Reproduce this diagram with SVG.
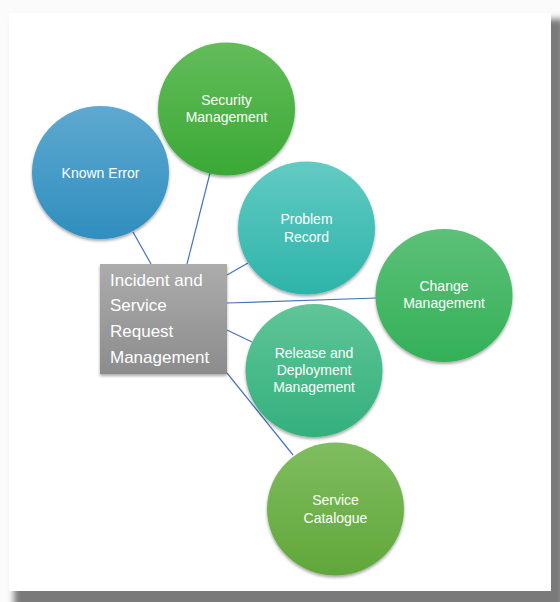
<svg xmlns="http://www.w3.org/2000/svg" width="560" height="602" viewBox="0 0 560 602">
<style>
.lbl{font-family:"Liberation Sans",Arial,sans-serif;font-size:14px;fill:#ffffff;text-anchor:middle}
.box{font-family:"Liberation Sans",Arial,sans-serif;font-size:17px;fill:#ffffff}
.con{stroke:#4a72c0;stroke-width:1.2;fill:none}
</style>
<defs>
<filter id="cardsh" x="-5%" y="-5%" width="110%" height="110%"><feGaussianBlur stdDeviation="3"/></filter>
<filter id="sh" x="-20%" y="-20%" width="140%" height="140%"><feDropShadow dx="0" dy="2" stdDeviation="1.5" flood-color="#000" flood-opacity="0.35"/></filter>
<linearGradient id="gKE" x1="0" y1="0" x2="0" y2="1"><stop offset="0" stop-color="#5ea9d0"/><stop offset="1" stop-color="#2f8ebe"/></linearGradient>
<linearGradient id="gSM" x1="0" y1="0" x2="0" y2="1"><stop offset="0" stop-color="#63bc5a"/><stop offset="1" stop-color="#3aa935"/></linearGradient>
<linearGradient id="gPR" x1="0" y1="0" x2="0" y2="1"><stop offset="0" stop-color="#62cbc3"/><stop offset="1" stop-color="#2db4aa"/></linearGradient>
<linearGradient id="gCM" x1="0" y1="0" x2="0" y2="1"><stop offset="0" stop-color="#5dc078"/><stop offset="1" stop-color="#33b058"/></linearGradient>
<linearGradient id="gRD" x1="0" y1="0" x2="0" y2="1"><stop offset="0" stop-color="#60c598"/><stop offset="1" stop-color="#33b07d"/></linearGradient>
<linearGradient id="gSC" x1="0" y1="0" x2="0" y2="1"><stop offset="0" stop-color="#7fbd5f"/><stop offset="1" stop-color="#60a73a"/></linearGradient>
<linearGradient id="gBox" x1="0" y1="0" x2="0" y2="1"><stop offset="0" stop-color="#acacac"/><stop offset="1" stop-color="#8c8c8c"/></linearGradient>
</defs>
<rect x="0" y="0" width="560" height="602" fill="#fbfbfb"/>
<rect x="14" y="19" width="550" height="590" fill="#7a7a7a" filter="url(#cardsh)"/>
<rect x="9" y="13" width="542" height="578" fill="#ffffff"/>
<g id="connectors">
<line class="con" x1="133" y1="232" x2="151" y2="264"/>
<line class="con" x1="210" y1="173" x2="187" y2="264"/>
<line class="con" x1="227" y1="275" x2="248" y2="263"/>
<line class="con" x1="227" y1="303" x2="377" y2="298"/>
<line class="con" x1="227" y1="330" x2="252" y2="342"/>
<line class="con" x1="227" y1="373" x2="293" y2="455"/>
</g>
<g id="known-error">
<ellipse cx="100.5" cy="172.5" rx="68.5" ry="66.5" fill="url(#gKE)" filter="url(#sh)"/>
<text class="lbl" x="100.5" y="178">Known Error</text>
</g>
<g id="security-management">
<ellipse cx="226.5" cy="109" rx="68.5" ry="66.5" fill="url(#gSM)" filter="url(#sh)"/>
<text class="lbl" x="226.5" y="105">Security</text>
<text class="lbl" x="226.5" y="122">Management</text>
</g>
<g id="problem-record">
<ellipse cx="306.5" cy="228" rx="68.5" ry="66.5" fill="url(#gPR)" filter="url(#sh)"/>
<text class="lbl" x="306.5" y="224">Problem</text>
<text class="lbl" x="306.5" y="242">Record</text>
</g>
<g id="change-management">
<ellipse cx="444" cy="295.5" rx="68.5" ry="66.5" fill="url(#gCM)" filter="url(#sh)"/>
<text class="lbl" x="444" y="291">Change</text>
<text class="lbl" x="444" y="308">Management</text>
</g>
<g id="release-deployment">
<ellipse cx="314" cy="370.5" rx="68.5" ry="66.5" fill="url(#gRD)" filter="url(#sh)"/>
<text class="lbl" x="314" y="358">Release and</text>
<text class="lbl" x="314" y="375">Deployment</text>
<text class="lbl" x="314" y="392">Management</text>
</g>
<g id="service-catalogue">
<ellipse cx="335.5" cy="509" rx="68.5" ry="66.5" fill="url(#gSC)" filter="url(#sh)"/>
<text class="lbl" x="335.5" y="505">Service</text>
<text class="lbl" x="335.5" y="523">Catalogue</text>
</g>
<g id="incident-service-request">
<rect x="100" y="264" width="127" height="110" fill="url(#gBox)" filter="url(#sh)"/>
<text class="box" x="110" y="286">Incident and</text>
<text class="box" x="110" y="311">Service</text>
<text class="box" x="110" y="337">Request</text>
<text class="box" x="110" y="363">Management</text>
</g>
</svg>
